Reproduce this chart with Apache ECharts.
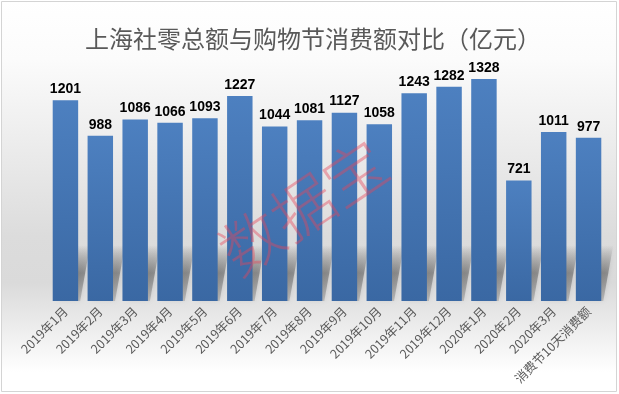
<!DOCTYPE html>
<html>
<head>
<meta charset="utf-8">
<script src="https://cdn.jsdelivr.net/npm/echarts@6/dist/echarts.min.js"></script>
<style>html,body{margin:0;padding:0;background:#fff}#c{width:619px;height:394px}</style>
</head>
<body>
<div id="c"></div>
<script>
const titleText = '上海社零总额与购物节消费额对比（亿元）';
const categories = ['2019年1月','2019年2月','2019年3月','2019年4月','2019年5月','2019年6月','2019年7月','2019年8月','2019年9月','2019年10月','2019年11月','2019年12月','2020年1月','2020年2月','2020年3月','消费节10天消费额'];
const values = [1201, 988, 1086, 1066, 1093, 1227, 1044, 1081, 1127, 1058, 1243, 1282, 1328, 721, 1011, 977];
const watermarkText = '数据宝';

const chart = echarts.init(document.getElementById('c'), null, {renderer: 'canvas'});
const barRatio = 0.73;
const option = {
  animation: false,
  title: {
    text: titleText,
    left: 80, top: 22,
    textStyle: {fontFamily: 'Noto Sans CJK SC', fontSize: 24, fontWeight: 'normal', color: '#595959'}
  },
  grid: {left: 48, right: 13, top: 67, bottom: 93},
  graphic: [
    {
      type: 'rect', z: -10, silent: true,
      shape: {x: 1.5, y: 1.5, width: 615, height: 390},
      style: {
        fill: new echarts.graphic.LinearGradient(0, 0, 0, 1, [
          {offset: 0, color: '#ffffff'},
          {offset: 0.15, color: '#fbfbfb'},
          {offset: 0.6, color: '#dcdcdc'},
          {offset: 0.72, color: '#dadada'},
          {offset: 0.95, color: '#ffffff'},
          {offset: 1, color: '#ffffff'}
        ]),
        stroke: '#d4d4d4', lineWidth: 1
      }
    },
    {
      type: 'text', z: 100, silent: true,
      x: 303, y: 207, rotation: 34 * Math.PI / 180,
      style: {
        text: watermarkText,
        fontFamily: 'Noto Sans CJK SC', fontSize: 62, fontWeight: 300,
        fill: 'rgba(230,70,90,0.42)', align: 'center', verticalAlign: 'middle'
      }
    }
  ],
  xAxis: {
    type: 'category',
    data: categories,
    axisLine: {show: false},
    axisTick: {show: false},
    axisLabel: {
      rotate: 45, margin: 8, interval: 0,
      color: '#595959', fontSize: 12.5, fontFamily: 'Noto Sans CJK SC'
    }
  },
  yAxis: {type: 'value', min: 0, max: 1400, show: false, splitLine: {show: false}},
  series: [
    {
      type: 'custom',
      z: 1,
      silent: true,
      data: values.map((v, i) => [i, v]),
      renderItem: function (params, api) {
        const base = api.coord([api.value(0), 0]);
        const band = api.size([1, 0])[0];
        const w = band * barRatio;
        const x0 = base[0] - w / 2, x1 = base[0] + w / 2;
        const y0 = base[1], h = 56, dx = 12;
        return {
          type: 'polygon',
          shape: {points: [[x0 + 4, y0], [x1 + 2, y0], [x1 + dx, y0 - h], [x0 + dx, y0 - h]]},
          style: {
            fill: new echarts.graphic.LinearGradient(0, 0, 0, 1, [
              {offset: 0, color: 'rgba(80,80,80,0)'},
              {offset: 0.5, color: 'rgba(80,80,80,0.5)'},
              {offset: 1, color: 'rgba(80,80,80,0.25)'}
            ]),
            shadowBlur: 5, shadowColor: 'rgba(80,80,80,0.45)'
          }
        };
      }
    },
    {
      type: 'bar',
      z: 2,
      data: values,
      barCategoryGap: '27%',
      itemStyle: {
        color: new echarts.graphic.LinearGradient(0, 0, 0, 1, [
          {offset: 0, color: '#4d80c0'},
          {offset: 1, color: '#3a68a3'}
        ])
      },
      label: {
        show: true, position: 'top', distance: 4,
        fontFamily: 'Liberation Sans', fontWeight: 'bold', fontSize: 14, color: '#000'
      }
    }
  ]
};
chart.setOption(option);
</script>
</body>
</html>
